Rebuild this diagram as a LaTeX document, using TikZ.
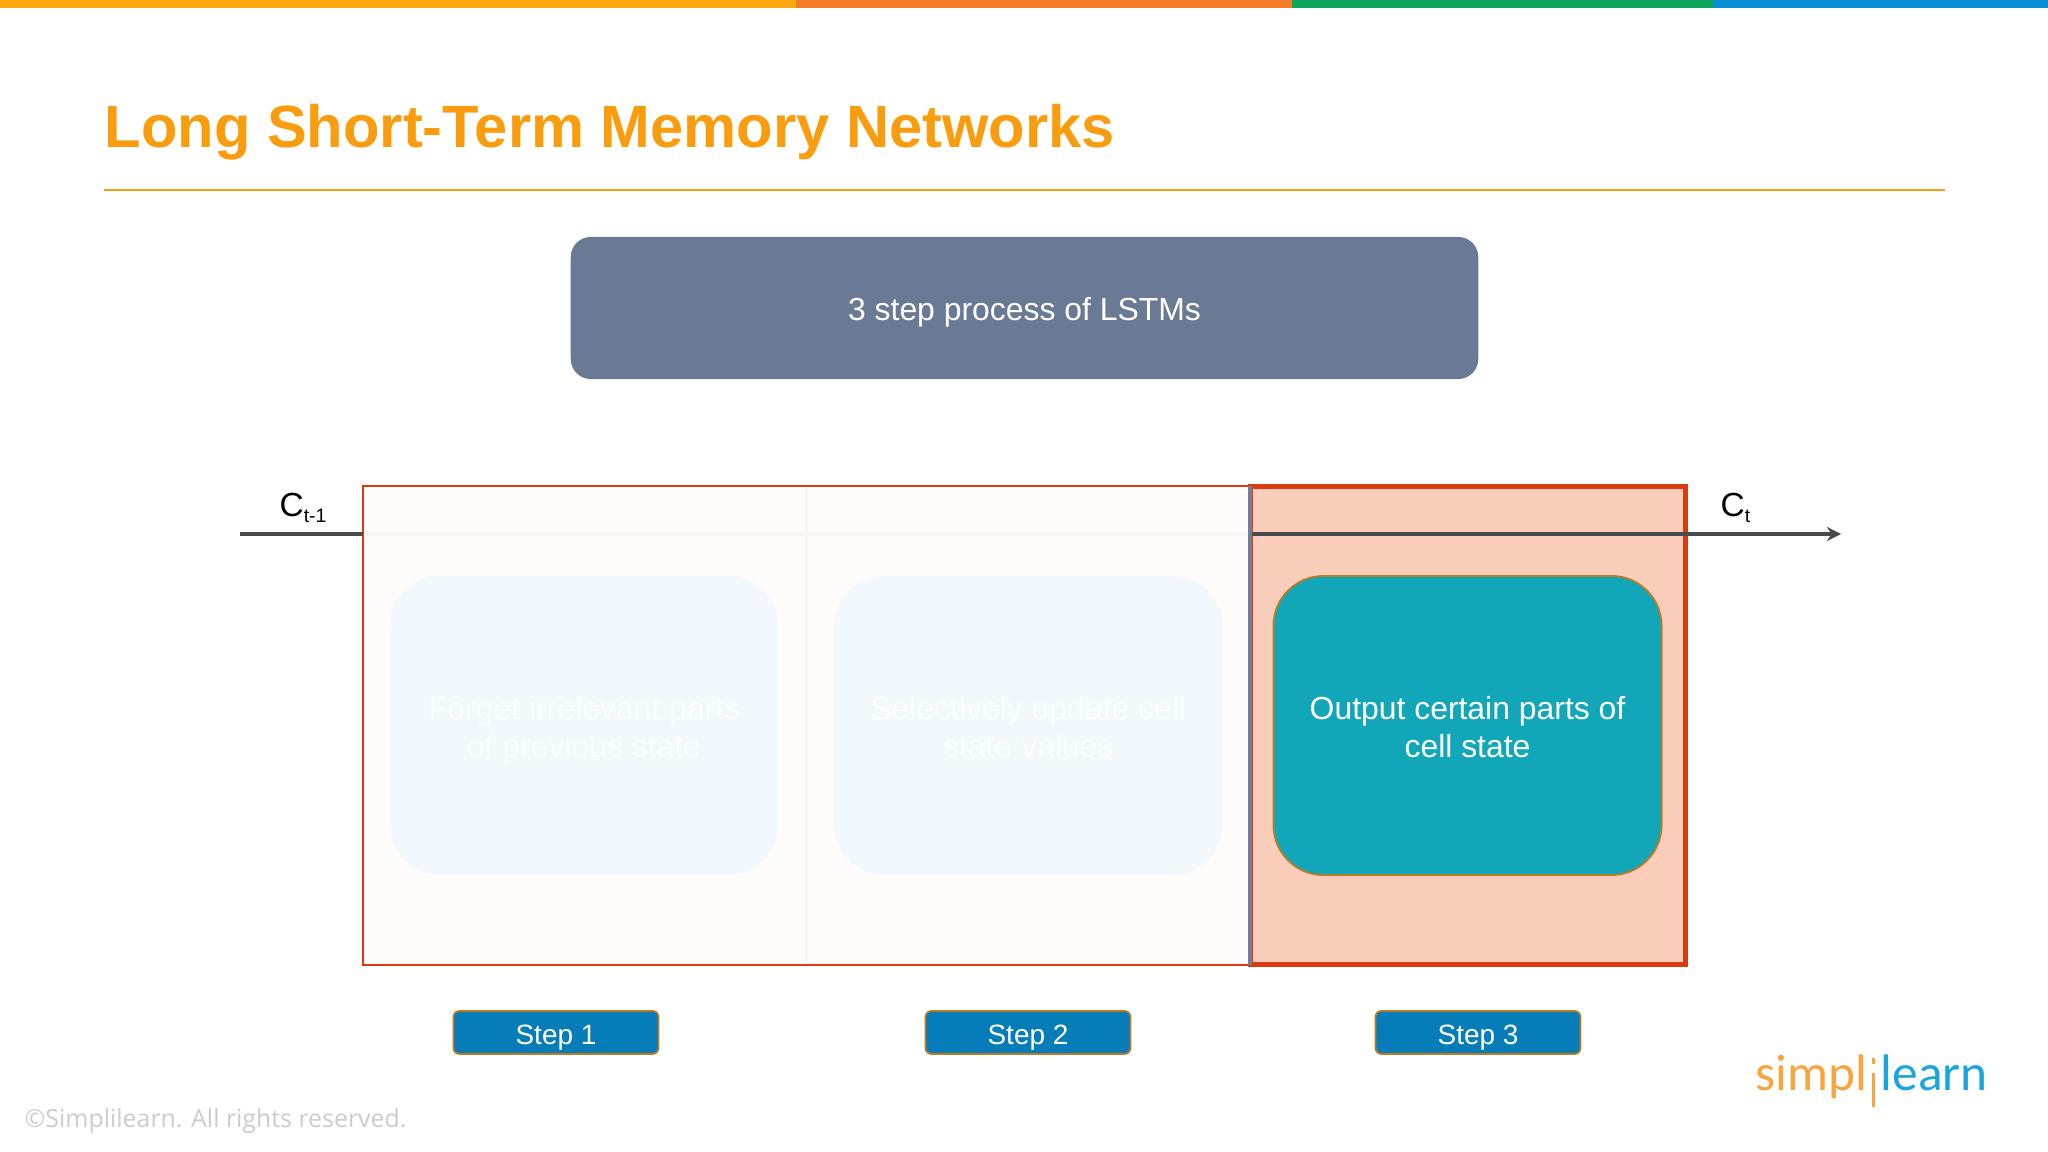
\documentclass[tikz,border=0pt]{standalone}
\usepackage{fontspec}
\setmainfont{Liberation Sans}
\newfontfamily\copyfont{Open Sans}
\newfontfamily\logofont{Carlito}
\usepackage{xcolor}
\usetikzlibrary{arrows.meta, positioning}

\definecolor{titleorange}{HTML}{F99D0F}
\definecolor{barorange}{HTML}{F47B2A}
\definecolor{bargreen}{HTML}{0EA65C}
\definecolor{barblue}{HTML}{0B8FD3}
\definecolor{headerslate}{HTML}{6B7A94}
\definecolor{framered}{HTML}{D93A10}
\definecolor{peach}{HTML}{F9CDB9}
\definecolor{tealbox}{HTML}{12A7B8}
\definecolor{edgeorange}{HTML}{BE7A22}
\definecolor{stepblue}{HTML}{067DB8}
\definecolor{linegray}{HTML}{4A4A4E}
\definecolor{washpink}{HTML}{FFFBFA}
\definecolor{washblue}{HTML}{F1F9FC}
\definecolor{washline}{HTML}{F8F5F4}
\definecolor{washtext}{HTML}{FAFDFE}
\definecolor{logoorange}{HTML}{F8A53E}
\definecolor{logoblue}{HTML}{1BA5DE}

\newcommand{\toplift}{\rule{0pt}{9.2pt}}
\newcommand{\lowlift}{\rule[-1.95pt]{0pt}{1.95pt}}

\tikzset{
    bodytext/.style={font=\fontsize{9.07}{10.9}\selectfont, align=center},
    taskbox/.style={bodytext, rectangle, rounded corners=0.5cm, inner sep=0pt, outer sep=0pt, minimum width=3.88cm, minimum height=2.99cm},
    stepbox/.style={rectangle, rounded corners=0.06cm, draw=edgeorange, line width=0.5pt, fill=stepblue, text=white, text height=8.4pt,
        font=\fontsize{7.95}{10}\selectfont, inner sep=0pt, minimum width=2.05cm, minimum height=0.43cm},
    statelabel/.style={font=\fontsize{9.5}{11}\selectfont, inner sep=0pt}
}

\begin{document}
\begin{tikzpicture}[x=0.01cm, y=-0.01cm, node distance=0.56cm]

    \useasboundingbox (0,0) rectangle (2048,1152);

    % Colour strip along the top
    \fill[titleorange!90!yellow] (0,0) rectangle (796,8);
    \fill[barorange] (796,0) rectangle (1292,8);
    \fill[bargreen] (1292,0) rectangle (1713,8);
    \fill[barblue] (1713,0) rectangle (2048,8);

    % Title and rule
    \node[anchor=base west, inner sep=0pt, text=titleorange, font=\fontsize{16.97}{20}\selectfont\bfseries] (title) at (104,148) {Long Short-Term Memory Networks};
    \draw[titleorange, line width=0.5pt] (104,190) -- (1945,190);

    % Header box
    \node[rectangle, rounded corners=0.2cm, fill=headerslate, text=white, bodytext, inner sep=0pt, minimum width=9.07cm, minimum height=1.42cm] (header) at (1024.5,308) {\toplift 3 step process of LSTMs};

    % Outer frames
    \node[draw=framered, line width=0.6pt, fill=washpink, rectangle, inner sep=0pt, outer sep=0pt, minimum width=8.87cm, minimum height=4.78cm] (frame_faded) at (806.5,725.5) {};
    \node[draw=framered, line width=1.4pt, fill=peach, rectangle, inner sep=0pt, outer sep=0pt, minimum width=4.35cm, minimum height=4.78cm, right=0pt of frame_faded] (frame_active) {};

    % Cell state line
    \coordinate (state_in) at (240,534);
    \coordinate (state_out) at (1841,534);
    \draw[linegray, line width=0.9pt] (state_in) -- (state_in -| frame_faded.west);
    \draw[washline, line width=0.9pt, shorten <=0.5pt] (state_in -| frame_faded.west) -- (state_in -| frame_faded.east);
    \draw[linegray, line width=0.9pt, -{Stealth[length=4pt, width=4pt]}] (state_out -| frame_active.west) -- (state_out);

    % Faded column line and divider
    \draw[washline, line width=0.9pt, shorten <=0.5pt, shorten >=0.5pt] (frame_faded.north) -- (frame_faded.south);
    \draw[color={rgb,255:red,118;green,124;blue,150}, line width=1.1pt] (frame_active.north west) -- (frame_active.south west);

    \node[statelabel, anchor=base west] (state_prev) at (279,517) {C\raisebox{-1.7pt}{\fontsize{5.5}{6}\selectfont t-1}};
    \node[statelabel, anchor=base west] (state_next) at (1720,517) {C\raisebox{-1.7pt}{\fontsize{5.5}{6}\selectfont t}};

    % Task boxes
    \node[taskbox, fill=washblue, text=washtext] (forget) at (584,725.5) {\toplift Forget irrelevant parts\\of previous state\lowlift};
    \node[taskbox, fill=washblue, text=washtext, right=of forget] (update) {\toplift Selectively update cell\\state values\lowlift};
    \node[taskbox, draw=edgeorange, line width=0.5pt, fill=tealbox, text=white, right=0.51cm of update] (output) {\toplift Output certain parts of\\cell state\lowlift};

    % Step tags
    \node[stepbox] (step_one) at (556,1032.5) {Step 1};
    \node[stepbox] (step_two) at (1028,1032.5) {Step 2};
    \node[stepbox] (step_three) at (1478,1032.5) {Step 3};

    % Footer
    \node[anchor=base west, inner sep=0pt, text=black!20, font=\copyfont\fontsize{7.08}{9}\selectfont] (rights) at (24,1127) {©Simplilearn. All rights reserved.};

    \node[anchor=base east, inner sep=0pt, text=logoorange, font=\logofont\fontsize{14.6}{18}\selectfont] (logo_left) at (1868,1090) {simpl};
    \node[anchor=base west, inner sep=0pt, text=logoblue, font=\logofont\fontsize{14.6}{18}\selectfont] (logo_right) at (1880,1090) {learn};
    \fill[logoorange] (1872,1073) rectangle (1875,1107);
    \fill[logoorange] (1872,1058) rectangle (1875,1064);

\end{tikzpicture}
\end{document}
